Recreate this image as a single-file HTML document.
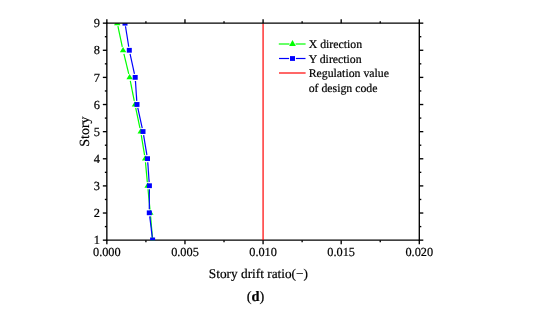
<!DOCTYPE html><html><head><meta charset="utf-8"><title>Story drift ratio</title><style>html,body{margin:0;padding:0;background:#fff}svg{display:block}text{font-family:"Liberation Serif","Times New Roman",serif;fill:#000;text-rendering:geometricPrecision;stroke:#000;stroke-width:0.2px}</style></head><body>
<svg width="550" height="310" viewBox="0 0 550 310">
<rect width="550" height="310" fill="#fff"/>
<defs><clipPath id="c"><rect x="106.85" y="23.15" width="312.45" height="217"/></clipPath></defs>
<g stroke="#000" stroke-width="1.35" fill="none">
<line x1="106.18" y1="240.15" x2="419.97" y2="240.15"/>
<line x1="106.85" y1="22.48" x2="106.85" y2="240.82"/>
<line x1="106.85" y1="240.15" x2="106.85" y2="244.15"/>
<line x1="145.906" y1="240.15" x2="145.906" y2="242.15"/>
<line x1="184.963" y1="240.15" x2="184.963" y2="244.15"/>
<line x1="224.019" y1="240.15" x2="224.019" y2="242.15"/>
<line x1="263.075" y1="240.15" x2="263.075" y2="244.15"/>
<line x1="302.131" y1="240.15" x2="302.131" y2="242.15"/>
<line x1="341.188" y1="240.15" x2="341.188" y2="244.15"/>
<line x1="380.244" y1="240.15" x2="380.244" y2="242.15"/>
<line x1="419.3" y1="240.15" x2="419.3" y2="244.15"/>
<line x1="106.85" y1="240.15" x2="102.85" y2="240.15"/>
<line x1="106.85" y1="226.588" x2="104.85" y2="226.588"/>
<line x1="106.85" y1="213.025" x2="102.85" y2="213.025"/>
<line x1="106.85" y1="199.463" x2="104.85" y2="199.463"/>
<line x1="106.85" y1="185.9" x2="102.85" y2="185.9"/>
<line x1="106.85" y1="172.338" x2="104.85" y2="172.338"/>
<line x1="106.85" y1="158.775" x2="102.85" y2="158.775"/>
<line x1="106.85" y1="145.213" x2="104.85" y2="145.213"/>
<line x1="106.85" y1="131.65" x2="102.85" y2="131.65"/>
<line x1="106.85" y1="118.088" x2="104.85" y2="118.088"/>
<line x1="106.85" y1="104.525" x2="102.85" y2="104.525"/>
<line x1="106.85" y1="90.9625" x2="104.85" y2="90.9625"/>
<line x1="106.85" y1="77.4" x2="102.85" y2="77.4"/>
<line x1="106.85" y1="63.8375" x2="104.85" y2="63.8375"/>
<line x1="106.85" y1="50.275" x2="102.85" y2="50.275"/>
<line x1="106.85" y1="36.7125" x2="104.85" y2="36.7125"/>
<line x1="106.85" y1="23.15" x2="102.85" y2="23.15"/>
</g>
<g clip-path="url(#c)">
<line x1="263.075" y1="23.15" x2="263.075" y2="240.15" stroke="#f00" stroke-width="1.2"/>
<g stroke="#0f0" stroke-width="1.2" fill="none"><line x1="117.90" y1="26.23" x2="122.30" y2="46.77"/><line x1="123.90" y1="53.79" x2="128.75" y2="73.88"/><line x1="130.30" y1="80.91" x2="134.25" y2="100.93"/><line x1="135.70" y1="107.98" x2="139.95" y2="128.03"/><line x1="141.28" y1="135.10" x2="144.57" y2="155.09"/><line x1="145.48" y1="162.22" x2="147.32" y2="182.14"/><line x1="148.00" y1="189.31" x2="149.95" y2="209.23"/><line x1="150.60" y1="216.40" x2="152.41" y2="237.61"/></g>
<g stroke="#00f" stroke-width="1.2" fill="none"><line x1="125.49" y1="26.26" x2="128.74" y2="46.73"/><line x1="130.07" y1="53.81" x2="134.43" y2="73.86"/><line x1="135.44" y1="80.97" x2="136.76" y2="100.87"/><line x1="137.78" y1="107.98" x2="142.22" y2="128.04"/><line x1="143.59" y1="135.10" x2="146.91" y2="155.09"/><line x1="147.75" y1="162.23" x2="149.15" y2="182.13"/><line x1="149.39" y1="189.32" x2="149.31" y2="209.21"/><line x1="149.74" y1="216.39" x2="152.32" y2="237.62"/></g>
<polygon points="117.25,19.90 114.05,25.15 120.45,25.15" fill="#0f0"/>
<polygon points="123.05,46.99 119.85,52.24 126.25,52.24" fill="#0f0"/>
<polygon points="129.60,74.08 126.40,79.33 132.80,79.33" fill="#0f0"/>
<polygon points="134.95,101.16 131.75,106.41 138.15,106.41" fill="#0f0"/>
<polygon points="140.70,128.25 137.50,133.50 143.90,133.50" fill="#0f0"/>
<polygon points="145.15,155.34 141.95,160.59 148.35,160.59" fill="#0f0"/>
<polygon points="147.65,182.42 144.45,187.67 150.85,187.67" fill="#0f0"/>
<polygon points="150.30,209.51 147.10,214.76 153.50,214.76" fill="#0f0"/>
<polygon points="152.60,236.60 149.40,241.85 155.80,241.85" fill="#0f0"/>
<rect x="122.50" y="20.80" width="5" height="4.8" fill="#00f"/>
<rect x="126.80" y="47.89" width="5" height="4.8" fill="#00f"/>
<rect x="132.70" y="74.97" width="5" height="4.8" fill="#00f"/>
<rect x="134.50" y="102.06" width="5" height="4.8" fill="#00f"/>
<rect x="140.50" y="129.15" width="5" height="4.8" fill="#00f"/>
<rect x="145.00" y="156.24" width="5" height="4.8" fill="#00f"/>
<rect x="146.90" y="183.32" width="5" height="4.8" fill="#00f"/>
<rect x="146.80" y="210.41" width="5" height="4.8" fill="#00f"/>
<rect x="150.10" y="237.50" width="5" height="4.8" fill="#00f"/>
</g>
<g stroke="#000" stroke-width="1.35" fill="none">
<line x1="106.18" y1="23.15" x2="419.97" y2="23.15"/>
<line x1="419.3" y1="22.48" x2="419.3" y2="240.82"/>
<line x1="106.85" y1="23.15" x2="106.85" y2="19.15"/>
<line x1="145.906" y1="23.15" x2="145.906" y2="21.15"/>
<line x1="184.963" y1="23.15" x2="184.963" y2="19.15"/>
<line x1="224.019" y1="23.15" x2="224.019" y2="21.15"/>
<line x1="263.075" y1="23.15" x2="263.075" y2="19.15"/>
<line x1="302.131" y1="23.15" x2="302.131" y2="21.15"/>
<line x1="341.188" y1="23.15" x2="341.188" y2="19.15"/>
<line x1="380.244" y1="23.15" x2="380.244" y2="21.15"/>
<line x1="419.3" y1="23.15" x2="419.3" y2="19.15"/>
<line x1="419.3" y1="240.15" x2="423.3" y2="240.15"/>
<line x1="419.3" y1="226.588" x2="421.3" y2="226.588"/>
<line x1="419.3" y1="213.025" x2="423.3" y2="213.025"/>
<line x1="419.3" y1="199.463" x2="421.3" y2="199.463"/>
<line x1="419.3" y1="185.9" x2="423.3" y2="185.9"/>
<line x1="419.3" y1="172.338" x2="421.3" y2="172.338"/>
<line x1="419.3" y1="158.775" x2="423.3" y2="158.775"/>
<line x1="419.3" y1="145.213" x2="421.3" y2="145.213"/>
<line x1="419.3" y1="131.65" x2="423.3" y2="131.65"/>
<line x1="419.3" y1="118.088" x2="421.3" y2="118.088"/>
<line x1="419.3" y1="104.525" x2="423.3" y2="104.525"/>
<line x1="419.3" y1="90.9625" x2="421.3" y2="90.9625"/>
<line x1="419.3" y1="77.4" x2="423.3" y2="77.4"/>
<line x1="419.3" y1="63.8375" x2="421.3" y2="63.8375"/>
<line x1="419.3" y1="50.275" x2="423.3" y2="50.275"/>
<line x1="419.3" y1="36.7125" x2="421.3" y2="36.7125"/>
<line x1="419.3" y1="23.15" x2="423.3" y2="23.15"/>
</g>
<text x="106.85" y="256.4" font-size="12.3" text-anchor="middle">0.000</text>
<text x="184.963" y="256.4" font-size="12.3" text-anchor="middle">0.005</text>
<text x="263.075" y="256.4" font-size="12.3" text-anchor="middle">0.010</text>
<text x="341.188" y="256.4" font-size="12.3" text-anchor="middle">0.015</text>
<text x="419.3" y="256.4" font-size="12.3" text-anchor="middle">0.020</text>
<text x="100" y="244.30" font-size="12.4" text-anchor="end">1</text>
<text x="100" y="217.18" font-size="12.4" text-anchor="end">2</text>
<text x="100" y="190.05" font-size="12.4" text-anchor="end">3</text>
<text x="100" y="162.93" font-size="12.4" text-anchor="end">4</text>
<text x="100" y="135.80" font-size="12.4" text-anchor="end">5</text>
<text x="100" y="108.68" font-size="12.4" text-anchor="end">6</text>
<text x="100" y="81.55" font-size="12.4" text-anchor="end">7</text>
<text x="100" y="54.43" font-size="12.4" text-anchor="end">8</text>
<text x="100" y="27.30" font-size="12.4" text-anchor="end">9</text>
<text transform="translate(88.6,131.6) rotate(-90)" font-size="14" text-anchor="middle">Story</text>
<text x="258.4" y="278" font-size="13.3" text-anchor="middle">Story drift ratio(−)</text>
<text x="255.5" y="301.3" font-size="14.4" text-anchor="middle">(<tspan font-weight="bold">d</tspan>)</text>
<line x1="278.8" y1="44" x2="289.5" y2="44" stroke="#0f0" stroke-width="1.2"/>
<line x1="295.6" y1="44" x2="305.6" y2="44" stroke="#0f0" stroke-width="1.2"/>
<polygon points="292.5,40.0 289.15,45.9 295.85,45.9" fill="#0f0"/>
<line x1="279" y1="58.5" x2="289.1" y2="58.5" stroke="#00f" stroke-width="1.2"/>
<line x1="295.9" y1="58.5" x2="305.5" y2="58.5" stroke="#00f" stroke-width="1.2"/>
<rect x="290" y="56.1" width="5" height="4.8" fill="#00f"/>
<line x1="279" y1="73" x2="305.6" y2="73" stroke="#f00" stroke-width="1.2"/>
<text x="308.7" y="48.15" font-size="11.8">X direction</text>
<text x="308.7" y="62.65" font-size="11.8">Y direction</text>
<text x="308.7" y="77.15" font-size="11.8">Regulation value</text>
<text x="308.7" y="91.65" font-size="11.8">of design code</text>
</svg></body></html>
